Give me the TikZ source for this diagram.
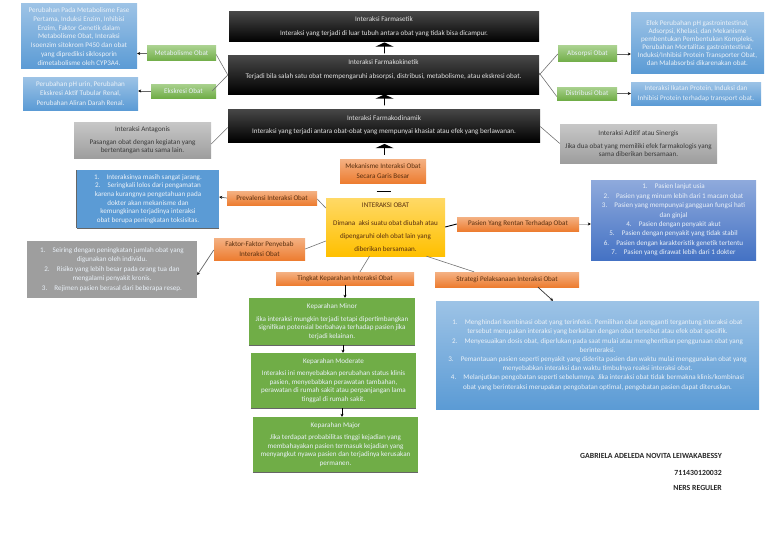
\documentclass[tikz,border=0pt]{standalone}
\usepackage{fontspec}
\setmainfont{Carlito}
\usetikzlibrary{arrows.meta,shapes.arrows}
\definecolor{txtlight}{HTML}{EAF1F8}
\definecolor{txtdark}{HTML}{3A3A3A}
\definecolor{txtbrown}{HTML}{5A3010}
\definecolor{bluetop}{HTML}{9DC3E6}
\definecolor{bluebot}{HTML}{5B9BD5}
\definecolor{royaltop}{HTML}{8FAADC}
\definecolor{royalbot}{HTML}{4472C4}
\definecolor{greentop}{HTML}{A9D18E}
\definecolor{greenbot}{HTML}{70AD47}
\definecolor{orangetop}{HTML}{F4B183}
\definecolor{orangebot}{HTML}{ED7D31}
\definecolor{yellowtop}{HTML}{FFD966}
\definecolor{yellowbot}{HTML}{FFC000}
\tikzset{
  leading/.style={font=\fontsize{7.1}{#1}\selectfont},
  base/.style={draw=none,inner sep=0pt,align=center,leading=8.7},
  blackbox/.style={base,top color=black!72,bottom color=black,text=white!88!black,leading=8},
  bluegrad/.style={base,top color=bluetop,bottom color=bluebot,text=txtlight},
  listblue/.style={base,fill=bluebot,text=txtlight},
  royal/.style={base,top color=royaltop,bottom color=royalbot,text=txtlight,leading=9.4},
  grayflat/.style={base,fill=black!38,text=txtlight,leading=9.5},
  graygrad/.style={base,top color=black!22,bottom color=black!38,text=txtdark,leading=8},
  greensm/.style={base,top color=greentop,bottom color=greenbot,text=txtlight},
  greenbox/.style={base,fill=greenbot,text=txtlight,leading=8.5},
  orange/.style={base,top color=orangetop,bottom color=orangebot,text=txtbrown},
  yellowbox/.style={base,top color=yellowtop,bottom color=yellowbot,text=txtbrown,leading=13},
  plainlabel/.style={draw=none,inner sep=0pt,font=\bfseries\fontsize{7.8}{8}\selectfont,text=black!85},
  thin line/.style={draw=black!55,line width=0.6pt},
  tip line/.style={draw=black!60,line width=0.7pt,-{Stealth[length=3pt,width=3pt,black]}},
  heavy line/.style={draw=black,line width=0.9pt},
  lower edge/.style={draw=black!60,line width=0.9pt},
  blockarrow/.style={single arrow,fill=black,draw=none,inner sep=0pt,shape border rotate=90,minimum height=11pt,minimum width=18pt,single arrow head extend=4.5pt,single arrow tip angle=130,single arrow head indent=0pt}
}
\newcommand{\bx}[7]{%
  \pgfmathsetmacro{\bxw}{#5-#3}\pgfmathsetmacro{\bxh}{#6-#4}%
  \pgfmathsetmacro{\bxx}{(#3+#5)/2}\pgfmathsetmacro{\bxy}{(#4+#6)/2}%
  \node[#1,minimum width=\bxw pt,minimum height=\bxh pt] (#2) at (\bxx,\bxy) {#7};}
\begin{document}
\begin{tikzpicture}[x=1pt,y=-1pt]
\useasboundingbox (0,0) rectangle (768,543);
% central stack
\bx{blackbox}{farmasetik}{229}{12}{539}{42}{Interaksi Farmasetik\\[6pt]Interaksi yang terjadi di luar tubuh antara obat yang tidak bisa dicampur.}
\bx{blackbox}{kinetik}{228}{56}{539}{94}{Interaksi Farmakokinetik\\[6pt]Terjadi bila salah satu obat mempengaruhi absorpsi, distribusi, metabolisme, atau ekskresi obat.\\[4pt]\mbox{}}
\bx{blackbox}{dinamik}{228}{109}{540}{142}{Interaksi Farmakodinamik\\[5pt]Interaksi yang terjadi antara obat-obat yang mempunyai khasiat atau efek yang berlawanan.}
\bx{orange}{mekanisme}{340}{159}{426}{183}{Mekanisme Interaksi Obat\\[1.5pt]Secara Garis Besar}
\node[blockarrow] (arrowa) at (384.5,48) {};
\node[blockarrow] (arrowb) at (384.5,100) {};
\node[blockarrow] (arrowc) at (384.5,149.5) {};
% top left
\bx{bluegrad}{metateks}{21}{4}{137}{69}{Perubahan Pada Metabolisme Fase\\Pertama, Induksi Enzim, Inhibisi\\Enzim, Faktor Genetik dalam\\Metabolisme Obat, Interaksi\\Isoenzim sitokrom P450 dan obat\\yang diprediksi siklosporin\\dimetabolisme oleh CYP3A4.}
\bx{greensm}{metaobat}{147}{46}{216}{61}{Metabolisme Obat}
\bx{bluegrad,leading=9.2}{ekskteks}{23}{77}{138}{110}{Perubahan pH urin, Perubahan\\Ekskresi Aktif Tubular Renal,\\Perubahan Aliran Darah Renal.}
\bx{greensm}{ekskobat}{151}{84}{216}{98}{Ekskresi Obat}
\bx{graygrad}{antagonis}{74}{122}{211}{158}{Interaksi Antagonis\\[5pt]Pasangan obat dengan kegiatan yang\\bertentangan satu sama lain.}
% top right
\bx{bluegrad,leading=7.9}{efekteks}{631}{13}{764}{73}{Efek Perubahan pH gastrointestinal,\\Adsorpsi, Khelasi, dan Mekanisme\\pembentukan Pembentukan Kompleks,\\Perubahan Mortalitas gastrointestinal,\\Induksi/Inhibisi Protein Transporter Obat,\\dan Malabsorbsi dikarenakan obat.}
\bx{greensm}{absorpsi}{558}{46}{617}{62}{Absorpsi Obat}
\bx{bluegrad,leading=9.7}{ikatan}{631}{82}{761}{105}{Interaksi Ikatan Protein, Induksi dan\\Inhibisi Protein terhadap transport obat.}
\bx{greensm}{distribusi}{557}{87}{617}{100}{Distribusi Obat}
\bx{graygrad}{aditif}{560}{124}{717}{163}{Interaksi Aditif atau Sinergis\\[5pt]Jika dua obat yang memiliki efek farmakologis yang\\sama diberikan bersamaan.}
% middle
\bx{listblue}{prevteks}{77}{170}{219}{228}{1.\quad Interaksinya masih sangat jarang.\\2.\quad Seringkali lolos dari pengamatan\\karena kurangnya pengetahuan pada\\dokter akan mekanisme dan\\kemungkinan terjadinya interaksi\\obat berupa peningkatan toksisitas.}
\bx{orange}{prevalensi}{227}{191}{317}{205}{Prevalensi Interaksi Obat}
\bx{orange}{faktor}{214}{238}{305}{260}{Faktor-Faktor Penyebab\\[1pt]Interaksi Obat}
\bx{grayflat}{faktorteks}{27}{241}{197}{298}{1.\quad Seiring dengan peningkatan jumlah obat yang\\digunakan oleh individu.\\2.\quad Risiko yang lebih besar pada orang tua dan\\mengalami penyakit kronis.\\3.\quad Rejimen pasien berasal dari beberapa resep.}
\bx{yellowbox}{interaksi}{326}{198}{445}{256}{INTERAKSI OBAT\\[5pt]Dimana\ \ aksi suatu obat diubah atau\\dipengaruhi oleh obat lain yang\\diberikan bersamaan.}
\bx{orange}{pasien}{457}{217}{579}{231}{Pasien Yang Rentan Terhadap Obat}
\bx{royal}{pasienteks}{591}{180}{756}{260}{1.\quad Pasien lanjut usia\\2.\quad Pasien yang minum lebih dari 1 macam obat\\3.\quad Pasien yang mempunyai gangguan fungsi hati\\dan ginjal\\4.\quad Pasien dengan penyakit akut\\5.\quad Pasien dengan penyakit yang tidak stabil\\6.\quad Pasien dengan karakteristik genetik tertentu\\7.\quad Pasien yang dirawat lebih dari 1 dokter}
\bx{orange}{tingkat}{276}{272}{414}{285}{Tingkat Keparahan Interaksi Obat}
\bx{orange}{strategi}{435}{272}{579}{287}{Strategi Pelaksanaan Interaksi Obat}
\bx{bluegrad,leading=9.2}{strategiteks}{436}{301}{759}{409}{1.\quad Menghindari kombinasi obat yang terinfeksi. Pemilihan obat pengganti tergantung interaksi obat\\tersebut merupakan interaksi yang berkaitan dengan obat tersebut atau efek obat spesifik.\\2.\quad Menyesuaikan dosis obat, diperlukan pada saat mulai atau menghentikan penggunaan obat yang\\berinteraksi.\\3.\quad Pemantauan pasien seperti penyakit yang diderita pasien dan waktu mulai menggunakan obat yang\\menyebabkan interaksi dan waktu timbulnya reaksi interaksi obat.\\4.\quad Melanjutkan pengobatan seperti sebelumnya. Jika interaksi obat tidak bermakna klinis/kombinasi\\obat yang berinteraksi merupakan pengobatan optimal, pengobatan pasien dapat diteruskan.}
\bx{greenbox}{minor}{249}{298}{415}{345}{Keparahan Minor\\[4pt]Jika interaksi mungkin terjadi tetapi dipertimbangkan\\signifikan potensial berbahaya terhadap pasien jika\\terjadi kelainan.}
\bx{greenbox}{moderate}{251}{353}{416}{408}{Keparahan Moderate\\[4pt]Interaksi ini menyebabkan perubahan status klinis\\pasien, menyebabkan perawatan tambahan,\\perawatan di rumah sakit atau perpanjangan lama\\tinggal di rumah sakit.}
\bx{greenbox}{major}{253}{417}{418}{472}{Keparahan Major\\[4pt]Jika terdapat probabilitas tinggi kejadian yang\\membahayakan pasien termasuk kejadian yang\\menyangkut nyawa pasien dan terjadinya kerusakan\\permanen.}
% signature
\node[plainlabel,anchor=east] (nama) at (722,456) {GABRIELA ADELEDA NOVITA LEIWAKABESSY};
\node[plainlabel,anchor=east] (nim) at (722,472.5) {711430120032};
\node[plainlabel,anchor=east] (kelas) at (722,488) {NERS REGULER};
% box edges
\draw[lower edge] (prevteks.south west) -- (prevteks.south east);
\draw[lower edge] (prevteks.south west) -- (prevteks.north west);
\draw[lower edge] (minor.south west) -- (minor.south east);
\draw[lower edge] (moderate.south west) -- (moderate.south east);
\draw[lower edge] (major.south west) -- (major.south east);
% connectors
\draw[thin line] ([yshift=-1pt]metaobat.east) -- (kinetik.west);
\draw[thin line] ([xshift=-4pt]ekskobat.east) -- (kinetik.west);
\draw[thin line] ([yshift=-4pt]antagonis.east) -- ([yshift=-2pt]dinamik.west);
\draw[thin line] (kinetik.east) -- (absorpsi.west);
\draw[thin line] ([yshift=2pt]kinetik.east) -- ([yshift=-3pt]distribusi.west);
\draw[thin line] ([yshift=-1pt]dinamik.east) -- (aditif.west);
\draw[tip line] (metaobat.west) -- (metateks.east |- metaobat.west);
\draw[tip line] (ekskobat.west) -- (ekskteks.east |- ekskobat.west);
\draw[tip line] (absorpsi.east) -- (efekteks.west |- absorpsi.east);
\draw[tip line] (distribusi.east) -- (ikatan.west |- distribusi.east);
\draw[tip line] (prevalensi.west) -- ([yshift=2pt]prevteks.east);
\draw[tip line] ([yshift=-1pt]faktor.west) -- ([yshift=-5.5pt]faktorteks.east);
\draw[thin line] ([yshift=-1pt]prevalensi.east) -- ([yshift=19pt]interaksi.west);
\draw[thin line] (faktor.east) -- ([yshift=-14pt]interaksi.west);
\draw[thin line] ([xshift=-16pt]interaksi.south) -- ([xshift=15pt]tingkat.north);
\draw[thin line] ([xshift=41pt]interaksi.south) -- ([xshift=-33pt]strategi.north);
\draw[heavy line] (interaksi.east) -- (pasien.west);
\draw[tip line,draw=black!25] (pasien.east) -- (pasienteks.west |- pasien.east);
\draw[tip line,draw=black] (tingkat.south) -- (tingkat.south |- minor.north);
\draw[tip line,draw=black] ([xshift=11pt]minor.south) -- ([xshift=9.5pt]moderate.north);
\draw[tip line,draw=black] ([xshift=8.5pt]moderate.south) -- ([xshift=6.5pt]major.north);
\draw[tip line,draw=black!80] ([xshift=31pt]strategi.south) -- ([xshift=-44.5pt]strategiteks.north);
\coordinate (dashl) at (376.5,191);
\coordinate (dashr) at (391,191);
\draw[heavy line] (dashl) -- (dashr);
\end{tikzpicture}
\end{document}
